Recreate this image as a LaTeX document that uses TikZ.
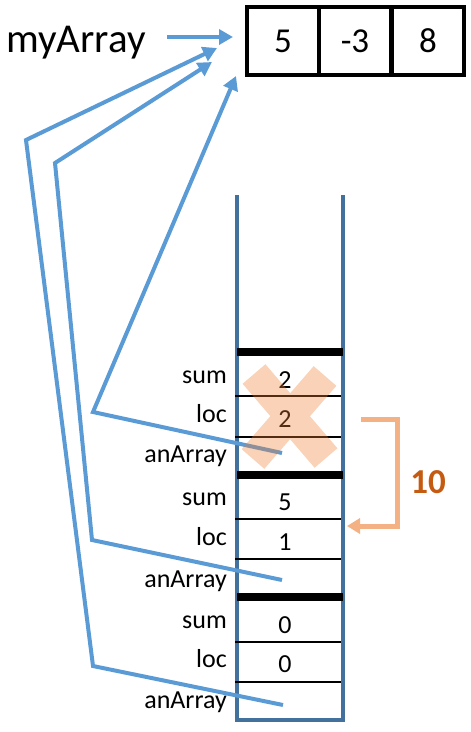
\documentclass[tikz,border=0pt]{standalone}
\usepackage{fontspec}
\setmainfont{Carlito}
\usetikzlibrary{arrows.meta}
\definecolor{ptrblue}{HTML}{5B9BD5}
\definecolor{stackblue}{HTML}{41719C}
\definecolor{bracketorange}{HTML}{F4B183}
\definecolor{crossorange}{HTML}{ED7D31}
\definecolor{numorange}{HTML}{C55A11}
\begin{document}
\begin{tikzpicture}[x=1pt,y=-1pt,
  ptr/.style={draw=ptrblue, line width=4pt, -{Triangle[length=14pt,width=15pt]}},
  cell/.style={draw=black, line width=4pt, minimum width=72pt, minimum height=68pt, inner sep=0pt, font=\fontsize{35}{40}\selectfont},
  lbl/.style={inner sep=0pt, font=\fontsize{26}{30}\selectfont, anchor=base east},
  val/.style={inner sep=0pt, font=\fontsize{26}{30}\selectfont, anchor=base},
  stackwall/.style={draw=stackblue, line width=4pt},
  framebar/.style={draw=black, line width=8pt},
  slotline/.style={draw=black, line width=2.5pt},
  bracket/.style={draw=bracketorange, line width=5pt, -{Triangle[length=13pt,width=15pt]}},
  crossmark/.style={draw=crossorange, draw opacity=0.35, line width=30pt, line cap=butt}
]
\useasboundingbox (0,0) rectangle (471,732);

% array
\node[inner sep=0pt, anchor=base west, font=\fontsize{41}{46}\selectfont] (myarr) at (6,52) {myArray};
\node[cell] (c1) at (283,41) {5};
\node[cell] (c2) at (355,41) {-3};
\node[cell] (c3) at (428,41) {8};

% stack
\draw[stackwall] (237,195) -- (237,720) -- (343,720) -- (343,195);
\foreach \y in {352,475,597} \draw[framebar] (237,\y) -- (343,\y);
\foreach \y in {396,437,519,559,642,682} \draw[slotline] (235,\y) -- (341,\y);

% labels
\node[lbl] (sum1) at (227,383) {sum};
\node[lbl] (loc1) at (227,422) {loc};
\node[lbl] (an1) at (227,462) {anArray};
\node[lbl] (sum2) at (227,505) {sum};
\node[lbl] (loc2) at (227,545) {loc};
\node[lbl] (an2) at (227,587) {anArray};
\node[lbl] (sum3) at (227,628) {sum};
\node[lbl] (loc3) at (227,667) {loc};
\node[lbl] (an3) at (227,708) {anArray};

% values
\node[val] (vs1) at (285,388) {2};
\node[val] (vl1) at (285,427) {2};
\node[val] (vs2) at (285,510) {5};
\node[val] (vl2) at (285,550) {1};
\node[val] (vs3) at (285,633) {0};
\node[val] (vl3) at (285,672) {0};

% pointer coordinates
\coordinate (m0) at (167,37);
\coordinate (t0) at (233,37);
\coordinate (t1) at (217,48);
\coordinate (t2) at (212,62);
\coordinate (t3) at (236,76);
\coordinate (aa1) at (282,453);
\coordinate (aa2) at (282,580);
\coordinate (aa3) at (283,705);
\coordinate (k1a) at (93,666);
\coordinate (k1b) at (26,140);
\coordinate (k2a) at (92,540);
\coordinate (k2b) at (55,163);
\coordinate (k3) at (93,412);

\draw[ptr] (m0) -- (t0);
\draw[ptr] (aa3) -- (k1a) -- (k1b) -- (t1);
\draw[ptr] (aa2) -- (k2a) -- (k2b) -- (t2);
\draw[ptr] (aa1) -- (k3) -- (t3);

% bracket
\coordinate (b0) at (361,419);
\coordinate (b1) at (397,419);
\coordinate (b2) at (397,526);
\coordinate (b3) at (347,526);
\draw[bracket] (b0) -- (b1) -- (b2) -- (b3);
\node[inner sep=0pt, font=\bfseries\fontsize{35}{40}\selectfont, text=numorange] (ten) at (428,482) {10};

% cross
\draw[crossmark] (254,374) -- (326,458) (325,376) -- (253,459);
\end{tikzpicture}
\end{document}
